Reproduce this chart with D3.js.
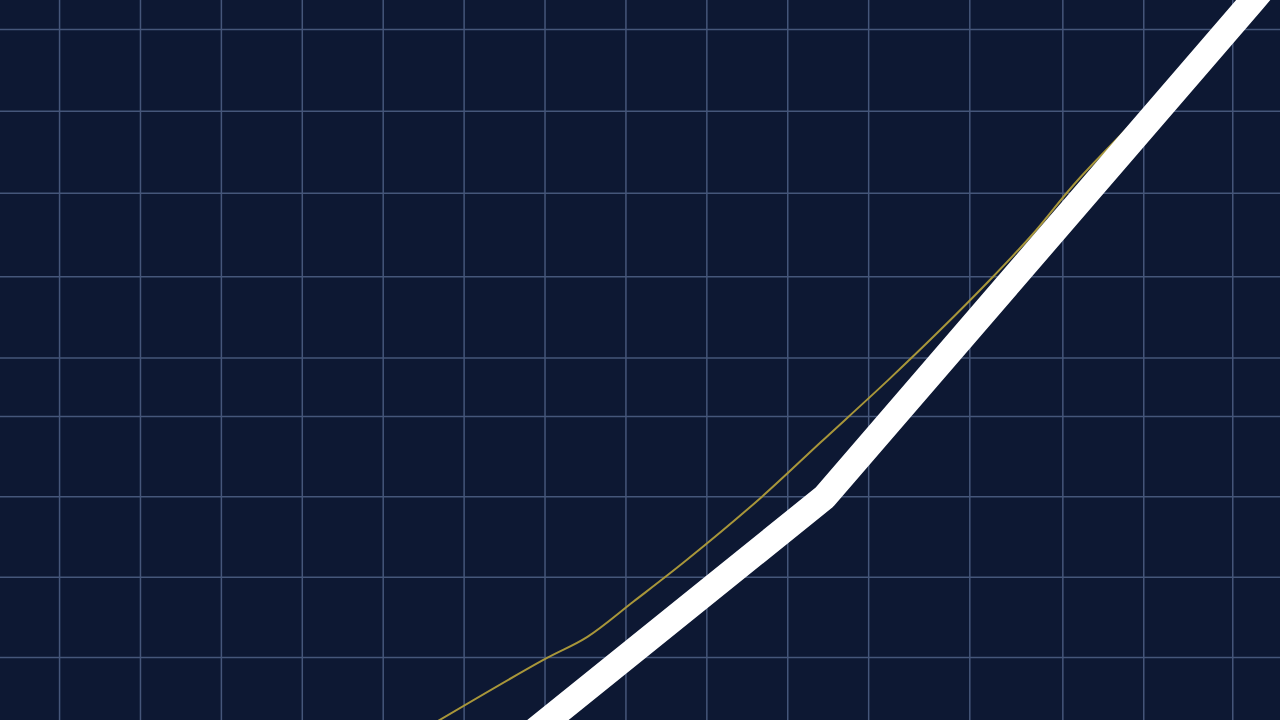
<!DOCTYPE html>
<html>
<head>
<meta charset="utf-8">
<script src="https://cdn.jsdelivr.net/npm/d3@7"></script>
<style>
  html, body { margin: 0; padding: 0; background: #0d1833; }
  svg { display: block; }
</style>
</head>
<body>
<div id="chart"></div>
<script>
// grid positions, in data units
var xGrid = [0, 1, 2, 3, 4, 5, 6, 7, 8, 9, 10, 11.25, 12.4, 13.4, 14.5];
var yGrid = [0, 1, 2, 3, 3.73, 4.74, 5.78, 6.8, 7.82];

// thick white series
var whiteX = [5.58, 9.46, 14.76, 15.22];
var whiteY = [-1.16, 1.99, 8.18, 8.73];

// thin gold series
var goldX = [4.46, 5.98, 6.53, 7.10, 7.76, 8.67, 9.41, 10.25, 10.89, 11.51, 12.03, 12.62, 14.76, 15.22];
var goldY = [-0.93, -0.04, 0.25, 0.69, 1.21, 1.98, 2.67, 3.45, 4.07, 4.70, 5.26, 5.97, 8.18, 8.73];

var width = 1280, height = 720;

var svg = d3.select("#chart").append("svg")
    .attr("width", width)
    .attr("height", height);

svg.append("rect")
    .attr("width", width)
    .attr("height", height)
    .attr("fill", "#0d1833");

var x = d3.scaleLinear().domain([-0.73, 15.09]).range([0, width]);
var y = d3.scaleLinear().domain([-0.785, 8.18]).range([height, 0]);

// grid drawn with axes
var gx = svg.append("g")
    .attr("transform", "translate(0," + height + ")")
    .call(d3.axisBottom(x).tickValues(xGrid).tickSize(-height).tickFormat(""));
var gy = svg.append("g")
    .call(d3.axisLeft(y).tickValues(yGrid).tickSize(-width).tickFormat(""));

[gx, gy].forEach(function (g) {
    g.select(".domain").remove();
    g.selectAll("line")
        .attr("stroke", "#45567a")
        .attr("stroke-width", 1.5);
});

var smooth = d3.line()
    .x(function (d) { return x(d[0]); })
    .y(function (d) { return y(d[1]); })
    .curve(d3.curveCatmullRom.alpha(0.5));

var straight = d3.line()
    .x(function (d) { return x(d[0]); })
    .y(function (d) { return y(d[1]); });

svg.append("path")
    .datum(d3.zip(goldX, goldY))
    .attr("d", smooth)
    .attr("fill", "none")
    .attr("stroke", "#a8963a")
    .attr("stroke-width", 2);

svg.append("path")
    .datum(d3.zip(whiteX, whiteY))
    .attr("d", straight)
    .attr("fill", "none")
    .attr("stroke", "#ffffff")
    .attr("stroke-width", 26)
    .attr("stroke-linejoin", "round");
</script>
</body>
</html>
